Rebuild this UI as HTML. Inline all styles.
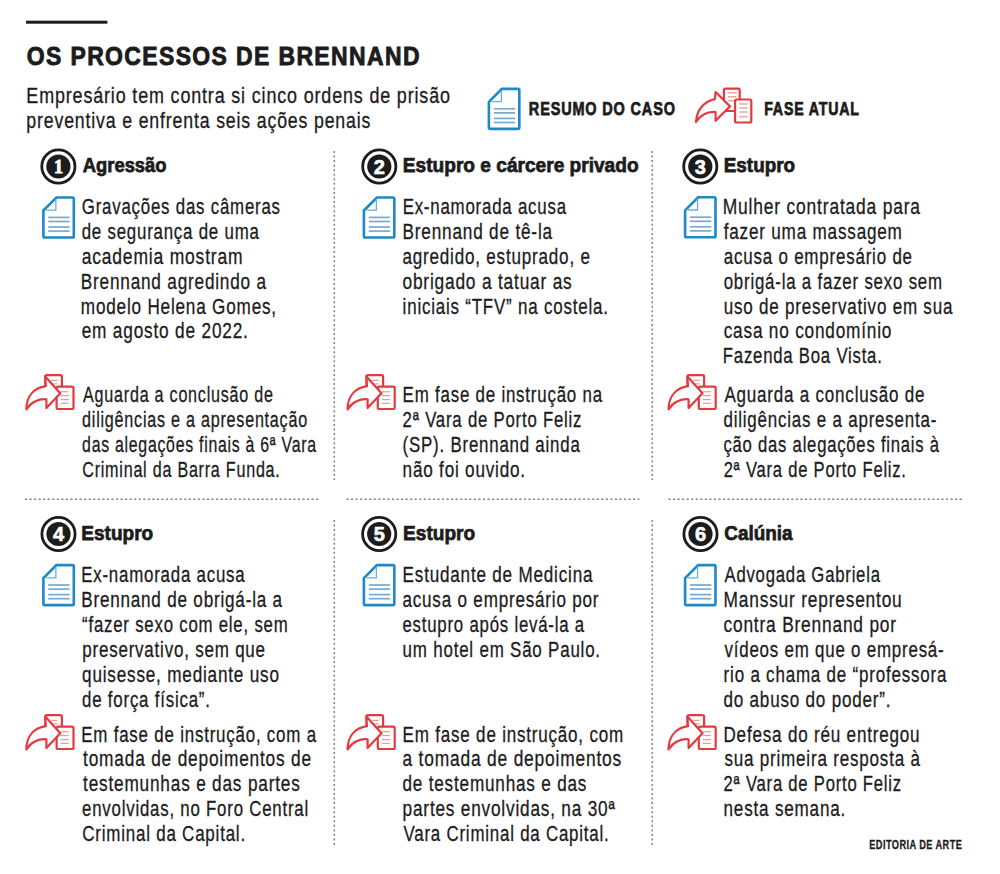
<!DOCTYPE html>
<html lang="pt-BR"><head><meta charset="utf-8"><title>Os processos de Brennand</title>
<style>
html,body{margin:0;padding:0;background:#fff;}
body{width:1000px;height:874px;overflow:hidden;}
svg{display:block;}
text{font-family:"Liberation Sans", Arial, Helvetica, sans-serif;fill:#1c1c1c;}
.b{stroke:#1c1c1c;stroke-width:0.3px;letter-spacing:1px;}
.h{stroke:#1c1c1c;stroke-width:0.75px;}
.t{letter-spacing:1.6px;stroke-width:0.9px;}
.lg{letter-spacing:1.1px;}
.ft{letter-spacing:0.6px;stroke:#1c1c1c;stroke-width:0.3px;}
</style></head>
<body>
<svg width="1000" height="874" viewBox="0 0 1000 874">
<rect width="1000" height="874" fill="#fff"/>
<rect x="26" y="20.7" width="81.4" height="3" fill="#1c1c1c"/>
<line x1="334.3" y1="151" x2="334.3" y2="480" stroke="#808080" stroke-width="1.5" stroke-dasharray="2 2.55"/>
<line x1="334.3" y1="520" x2="334.3" y2="847" stroke="#808080" stroke-width="1.5" stroke-dasharray="2 2.55"/>
<line x1="652.2" y1="151" x2="652.2" y2="480" stroke="#808080" stroke-width="1.5" stroke-dasharray="2 2.55"/>
<line x1="652.2" y1="520" x2="652.2" y2="847" stroke="#808080" stroke-width="1.5" stroke-dasharray="2 2.55"/>
<line x1="25" y1="499.3" x2="318.5" y2="499.3" stroke="#808080" stroke-width="1.5" stroke-dasharray="2 2.55"/>
<line x1="346.5" y1="499.3" x2="639.5" y2="499.3" stroke="#808080" stroke-width="1.5" stroke-dasharray="2 2.55"/>
<line x1="668.5" y1="499.3" x2="962.5" y2="499.3" stroke="#808080" stroke-width="1.5" stroke-dasharray="2 2.55"/>
<g transform="translate(487.60,87.60)">
<path d="M1.3,14.3 L14.3,1.3 L30.4,1.3 Q31.7,1.3 31.7,2.6 L31.7,40 Q31.7,41.3 30.4,41.3 L2.6,41.3 Q1.3,41.3 1.3,40 Z" fill="#fff" stroke="#1f88c6" stroke-width="2.6" stroke-linejoin="miter"/>
<path d="M13.75,3 L13.75,14 L4.2,14" fill="none" stroke="#6aaedc" stroke-width="1.3"/>
<g stroke="#76aad0" stroke-width="1.7">
<line x1="6.2" y1="21.2" x2="27.5" y2="21.2"/><line x1="6.2" y1="25.3" x2="27.5" y2="25.3"/>
<line x1="6.2" y1="30.8" x2="27.5" y2="30.8"/><line x1="6.2" y1="34.9" x2="27.5" y2="34.9"/>
</g></g>
<g transform="translate(690.00,80.00)" fill="#fff" stroke="#e43a3f" stroke-width="2.2" stroke-linejoin="round">
<rect x="33.9" y="8.7" width="15.8" height="22.3" rx="1.6"/>
<g stroke="#e59a9a" stroke-width="1.3"><line x1="38" y1="12.8" x2="46.4" y2="12.8"/><line x1="38" y1="16.8" x2="46.4" y2="16.8"/><line x1="38" y1="20.8" x2="46.4" y2="20.8"/></g>
<rect x="45.1" y="19.5" width="16.2" height="23" rx="1.6"/>
<g stroke="#e59a9a" stroke-width="1.3"><line x1="49.2" y1="24" x2="57.6" y2="24"/><line x1="49.2" y1="28" x2="57.6" y2="28"/>
<line x1="49.2" y1="32" x2="57.6" y2="32"/><line x1="49.2" y1="36.8" x2="57.6" y2="36.8"/></g>
<path d="M6,42 C6.5,30 14,21.5 24.8,19.2 L25.6,12 L40,26.4 L25.6,40.8 L25.6,32 C18,31.5 10.5,35 6,42 Z"/>
</g>
<g><circle cx="58.4" cy="166.5" r="16.6" fill="none" stroke="#1c1c1c" stroke-width="2.8"/>
<circle cx="58.4" cy="166.5" r="12.1" fill="#1c1c1c"/>
<text x="58.4" y="173.20" text-anchor="middle" font-size="18" font-weight="bold" style="font-family:'Liberation Serif', serif;fill:#fff;stroke:#fff;stroke-width:0.9px">1</text></g>
<g><circle cx="379.3" cy="166.5" r="16.6" fill="none" stroke="#1c1c1c" stroke-width="2.8"/>
<circle cx="379.3" cy="166.5" r="12.1" fill="#1c1c1c"/>
<text x="379.3" y="173.70" text-anchor="middle" font-size="20" font-weight="bold" style="font-family:'Liberation Sans', sans-serif;fill:#fff;stroke:#fff;stroke-width:0.6px">2</text></g>
<g><circle cx="700.3" cy="166.5" r="16.6" fill="none" stroke="#1c1c1c" stroke-width="2.8"/>
<circle cx="700.3" cy="166.5" r="12.1" fill="#1c1c1c"/>
<text x="700.3" y="173.70" text-anchor="middle" font-size="20" font-weight="bold" style="font-family:'Liberation Sans', sans-serif;fill:#fff;stroke:#fff;stroke-width:0.6px">3</text></g>
<g><circle cx="58.5" cy="534" r="16.6" fill="none" stroke="#1c1c1c" stroke-width="2.8"/>
<circle cx="58.5" cy="534" r="12.1" fill="#1c1c1c"/>
<text x="58.5" y="541.20" text-anchor="middle" font-size="20" font-weight="bold" style="font-family:'Liberation Sans', sans-serif;fill:#fff;stroke:#fff;stroke-width:0.6px">4</text></g>
<g><circle cx="379.2" cy="534" r="16.6" fill="none" stroke="#1c1c1c" stroke-width="2.8"/>
<circle cx="379.2" cy="534" r="12.1" fill="#1c1c1c"/>
<text x="379.2" y="541.20" text-anchor="middle" font-size="20" font-weight="bold" style="font-family:'Liberation Sans', sans-serif;fill:#fff;stroke:#fff;stroke-width:0.6px">5</text></g>
<g><circle cx="700.5" cy="534" r="16.6" fill="none" stroke="#1c1c1c" stroke-width="2.8"/>
<circle cx="700.5" cy="534" r="12.1" fill="#1c1c1c"/>
<text x="700.5" y="541.20" text-anchor="middle" font-size="20" font-weight="bold" style="font-family:'Liberation Sans', sans-serif;fill:#fff;stroke:#fff;stroke-width:0.6px">6</text></g>
<g transform="translate(42.10,196.20)">
<path d="M1.3,14.3 L14.3,1.3 L30.4,1.3 Q31.7,1.3 31.7,2.6 L31.7,40 Q31.7,41.3 30.4,41.3 L2.6,41.3 Q1.3,41.3 1.3,40 Z" fill="#fff" stroke="#1f88c6" stroke-width="2.6" stroke-linejoin="miter"/>
<path d="M13.75,3 L13.75,14 L4.2,14" fill="none" stroke="#6aaedc" stroke-width="1.3"/>
<g stroke="#76aad0" stroke-width="1.7">
<line x1="6.2" y1="21.2" x2="27.5" y2="21.2"/><line x1="6.2" y1="25.3" x2="27.5" y2="25.3"/>
<line x1="6.2" y1="30.8" x2="27.5" y2="30.8"/><line x1="6.2" y1="34.9" x2="27.5" y2="34.9"/>
</g></g>
<g transform="translate(362.60,196.20)">
<path d="M1.3,14.3 L14.3,1.3 L30.4,1.3 Q31.7,1.3 31.7,2.6 L31.7,40 Q31.7,41.3 30.4,41.3 L2.6,41.3 Q1.3,41.3 1.3,40 Z" fill="#fff" stroke="#1f88c6" stroke-width="2.6" stroke-linejoin="miter"/>
<path d="M13.75,3 L13.75,14 L4.2,14" fill="none" stroke="#6aaedc" stroke-width="1.3"/>
<g stroke="#76aad0" stroke-width="1.7">
<line x1="6.2" y1="21.2" x2="27.5" y2="21.2"/><line x1="6.2" y1="25.3" x2="27.5" y2="25.3"/>
<line x1="6.2" y1="30.8" x2="27.5" y2="30.8"/><line x1="6.2" y1="34.9" x2="27.5" y2="34.9"/>
</g></g>
<g transform="translate(683.80,196.00)">
<path d="M1.3,14.3 L14.3,1.3 L30.4,1.3 Q31.7,1.3 31.7,2.6 L31.7,40 Q31.7,41.3 30.4,41.3 L2.6,41.3 Q1.3,41.3 1.3,40 Z" fill="#fff" stroke="#1f88c6" stroke-width="2.6" stroke-linejoin="miter"/>
<path d="M13.75,3 L13.75,14 L4.2,14" fill="none" stroke="#6aaedc" stroke-width="1.3"/>
<g stroke="#76aad0" stroke-width="1.7">
<line x1="6.2" y1="21.2" x2="27.5" y2="21.2"/><line x1="6.2" y1="25.3" x2="27.5" y2="25.3"/>
<line x1="6.2" y1="30.8" x2="27.5" y2="30.8"/><line x1="6.2" y1="34.9" x2="27.5" y2="34.9"/>
</g></g>
<g transform="translate(42.10,563.80)">
<path d="M1.3,14.3 L14.3,1.3 L30.4,1.3 Q31.7,1.3 31.7,2.6 L31.7,40 Q31.7,41.3 30.4,41.3 L2.6,41.3 Q1.3,41.3 1.3,40 Z" fill="#fff" stroke="#1f88c6" stroke-width="2.6" stroke-linejoin="miter"/>
<path d="M13.75,3 L13.75,14 L4.2,14" fill="none" stroke="#6aaedc" stroke-width="1.3"/>
<g stroke="#76aad0" stroke-width="1.7">
<line x1="6.2" y1="21.2" x2="27.5" y2="21.2"/><line x1="6.2" y1="25.3" x2="27.5" y2="25.3"/>
<line x1="6.2" y1="30.8" x2="27.5" y2="30.8"/><line x1="6.2" y1="34.9" x2="27.5" y2="34.9"/>
</g></g>
<g transform="translate(362.60,563.80)">
<path d="M1.3,14.3 L14.3,1.3 L30.4,1.3 Q31.7,1.3 31.7,2.6 L31.7,40 Q31.7,41.3 30.4,41.3 L2.6,41.3 Q1.3,41.3 1.3,40 Z" fill="#fff" stroke="#1f88c6" stroke-width="2.6" stroke-linejoin="miter"/>
<path d="M13.75,3 L13.75,14 L4.2,14" fill="none" stroke="#6aaedc" stroke-width="1.3"/>
<g stroke="#76aad0" stroke-width="1.7">
<line x1="6.2" y1="21.2" x2="27.5" y2="21.2"/><line x1="6.2" y1="25.3" x2="27.5" y2="25.3"/>
<line x1="6.2" y1="30.8" x2="27.5" y2="30.8"/><line x1="6.2" y1="34.9" x2="27.5" y2="34.9"/>
</g></g>
<g transform="translate(683.80,563.80)">
<path d="M1.3,14.3 L14.3,1.3 L30.4,1.3 Q31.7,1.3 31.7,2.6 L31.7,40 Q31.7,41.3 30.4,41.3 L2.6,41.3 Q1.3,41.3 1.3,40 Z" fill="#fff" stroke="#1f88c6" stroke-width="2.6" stroke-linejoin="miter"/>
<path d="M13.75,3 L13.75,14 L4.2,14" fill="none" stroke="#6aaedc" stroke-width="1.3"/>
<g stroke="#76aad0" stroke-width="1.7">
<line x1="6.2" y1="21.2" x2="27.5" y2="21.2"/><line x1="6.2" y1="25.3" x2="27.5" y2="25.3"/>
<line x1="6.2" y1="30.8" x2="27.5" y2="30.8"/><line x1="6.2" y1="34.9" x2="27.5" y2="34.9"/>
</g></g>
<g transform="translate(22.00,370.00)" fill="#fff" stroke="#e43a3f" stroke-width="2.2" stroke-linejoin="round">
<rect x="23.3" y="5.05" width="16.6" height="20" rx="1.6"/>
<line x1="29" y1="10.4" x2="35.4" y2="10.4" stroke="#e59a9a" stroke-width="1.2"/>
<line x1="29" y1="13.9" x2="35.4" y2="13.9" stroke="#e59a9a" stroke-width="1.2"/>
<rect x="34.6" y="16.7" width="16.9" height="22.3" rx="1.6"/>
<g stroke="#e59a9a" stroke-width="1.2"><line x1="38.6" y1="21.75" x2="46.7" y2="21.75"/><line x1="38.6" y1="25.5" x2="46.7" y2="25.5"/>
<line x1="38.6" y1="29.6" x2="46.7" y2="29.6"/><line x1="38.6" y1="33.35" x2="46.7" y2="33.35"/></g>
<path d="M4.35,39.4 C4.5,26 12,18 23.8,16.2 L23.2,6.4 L38.3,23.2 L24.4,38 L24.4,29.3 C17,28.5 9,32 4.35,39.4 Z"/>
</g>
<g transform="translate(343.20,370.00)" fill="#fff" stroke="#e43a3f" stroke-width="2.2" stroke-linejoin="round">
<rect x="23.3" y="5.05" width="16.6" height="20" rx="1.6"/>
<line x1="29" y1="10.4" x2="35.4" y2="10.4" stroke="#e59a9a" stroke-width="1.2"/>
<line x1="29" y1="13.9" x2="35.4" y2="13.9" stroke="#e59a9a" stroke-width="1.2"/>
<rect x="34.6" y="16.7" width="16.9" height="22.3" rx="1.6"/>
<g stroke="#e59a9a" stroke-width="1.2"><line x1="38.6" y1="21.75" x2="46.7" y2="21.75"/><line x1="38.6" y1="25.5" x2="46.7" y2="25.5"/>
<line x1="38.6" y1="29.6" x2="46.7" y2="29.6"/><line x1="38.6" y1="33.35" x2="46.7" y2="33.35"/></g>
<path d="M4.35,39.4 C4.5,26 12,18 23.8,16.2 L23.2,6.4 L38.3,23.2 L24.4,38 L24.4,29.3 C17,28.5 9,32 4.35,39.4 Z"/>
</g>
<g transform="translate(664.20,370.00)" fill="#fff" stroke="#e43a3f" stroke-width="2.2" stroke-linejoin="round">
<rect x="23.3" y="5.05" width="16.6" height="20" rx="1.6"/>
<line x1="29" y1="10.4" x2="35.4" y2="10.4" stroke="#e59a9a" stroke-width="1.2"/>
<line x1="29" y1="13.9" x2="35.4" y2="13.9" stroke="#e59a9a" stroke-width="1.2"/>
<rect x="34.6" y="16.7" width="16.9" height="22.3" rx="1.6"/>
<g stroke="#e59a9a" stroke-width="1.2"><line x1="38.6" y1="21.75" x2="46.7" y2="21.75"/><line x1="38.6" y1="25.5" x2="46.7" y2="25.5"/>
<line x1="38.6" y1="29.6" x2="46.7" y2="29.6"/><line x1="38.6" y1="33.35" x2="46.7" y2="33.35"/></g>
<path d="M4.35,39.4 C4.5,26 12,18 23.8,16.2 L23.2,6.4 L38.3,23.2 L24.4,38 L24.4,29.3 C17,28.5 9,32 4.35,39.4 Z"/>
</g>
<g transform="translate(22.00,710.00)" fill="#fff" stroke="#e43a3f" stroke-width="2.2" stroke-linejoin="round">
<rect x="23.3" y="5.05" width="16.6" height="20" rx="1.6"/>
<line x1="29" y1="10.4" x2="35.4" y2="10.4" stroke="#e59a9a" stroke-width="1.2"/>
<line x1="29" y1="13.9" x2="35.4" y2="13.9" stroke="#e59a9a" stroke-width="1.2"/>
<rect x="34.6" y="16.7" width="16.9" height="22.3" rx="1.6"/>
<g stroke="#e59a9a" stroke-width="1.2"><line x1="38.6" y1="21.75" x2="46.7" y2="21.75"/><line x1="38.6" y1="25.5" x2="46.7" y2="25.5"/>
<line x1="38.6" y1="29.6" x2="46.7" y2="29.6"/><line x1="38.6" y1="33.35" x2="46.7" y2="33.35"/></g>
<path d="M4.35,39.4 C4.5,26 12,18 23.8,16.2 L23.2,6.4 L38.3,23.2 L24.4,38 L24.4,29.3 C17,28.5 9,32 4.35,39.4 Z"/>
</g>
<g transform="translate(343.20,710.00)" fill="#fff" stroke="#e43a3f" stroke-width="2.2" stroke-linejoin="round">
<rect x="23.3" y="5.05" width="16.6" height="20" rx="1.6"/>
<line x1="29" y1="10.4" x2="35.4" y2="10.4" stroke="#e59a9a" stroke-width="1.2"/>
<line x1="29" y1="13.9" x2="35.4" y2="13.9" stroke="#e59a9a" stroke-width="1.2"/>
<rect x="34.6" y="16.7" width="16.9" height="22.3" rx="1.6"/>
<g stroke="#e59a9a" stroke-width="1.2"><line x1="38.6" y1="21.75" x2="46.7" y2="21.75"/><line x1="38.6" y1="25.5" x2="46.7" y2="25.5"/>
<line x1="38.6" y1="29.6" x2="46.7" y2="29.6"/><line x1="38.6" y1="33.35" x2="46.7" y2="33.35"/></g>
<path d="M4.35,39.4 C4.5,26 12,18 23.8,16.2 L23.2,6.4 L38.3,23.2 L24.4,38 L24.4,29.3 C17,28.5 9,32 4.35,39.4 Z"/>
</g>
<g transform="translate(664.20,710.00)" fill="#fff" stroke="#e43a3f" stroke-width="2.2" stroke-linejoin="round">
<rect x="23.3" y="5.05" width="16.6" height="20" rx="1.6"/>
<line x1="29" y1="10.4" x2="35.4" y2="10.4" stroke="#e59a9a" stroke-width="1.2"/>
<line x1="29" y1="13.9" x2="35.4" y2="13.9" stroke="#e59a9a" stroke-width="1.2"/>
<rect x="34.6" y="16.7" width="16.9" height="22.3" rx="1.6"/>
<g stroke="#e59a9a" stroke-width="1.2"><line x1="38.6" y1="21.75" x2="46.7" y2="21.75"/><line x1="38.6" y1="25.5" x2="46.7" y2="25.5"/>
<line x1="38.6" y1="29.6" x2="46.7" y2="29.6"/><line x1="38.6" y1="33.35" x2="46.7" y2="33.35"/></g>
<path d="M4.35,39.4 C4.5,26 12,18 23.8,16.2 L23.2,6.4 L38.3,23.2 L24.4,38 L24.4,29.3 C17,28.5 9,32 4.35,39.4 Z"/>
</g>
<g>
<text class="h t" x="26.75" y="64.50" font-size="26.5" font-weight="bold" textLength="394.09" lengthAdjust="spacingAndGlyphs">OS PROCESSOS DE BRENNAND</text>
<text class="b" x="26.36" y="103.30" font-size="21.3" font-weight="normal" textLength="424.42" lengthAdjust="spacingAndGlyphs">Empresário tem contra si cinco ordens de prisão</text>
<text class="b" x="26.37" y="127.60" font-size="21.3" font-weight="normal" textLength="344.83" lengthAdjust="spacingAndGlyphs">preventiva e enfrenta seis ações penais</text>
<text class="h lg" x="528.86" y="114.80" font-size="19.0" font-weight="bold" textLength="146.90" lengthAdjust="spacingAndGlyphs">RESUMO DO CASO</text>
<text class="h lg" x="764.19" y="114.70" font-size="19.0" font-weight="bold" textLength="95.50" lengthAdjust="spacingAndGlyphs">FASE ATUAL</text>
<text class="h" x="82.78" y="172.00" font-size="20.7" font-weight="bold" textLength="83.79" lengthAdjust="spacingAndGlyphs">Agressão</text>
<text class="h" x="402.87" y="172.00" font-size="20.7" font-weight="bold" textLength="235.72" lengthAdjust="spacingAndGlyphs">Estupro e cárcere privado</text>
<text class="h" x="723.76" y="172.00" font-size="20.7" font-weight="bold" textLength="71.36" lengthAdjust="spacingAndGlyphs">Estupro</text>
<text class="h" x="81.35" y="539.70" font-size="20.7" font-weight="bold" textLength="71.86" lengthAdjust="spacingAndGlyphs">Estupro</text>
<text class="h" x="403.08" y="539.70" font-size="20.7" font-weight="bold" textLength="72.04" lengthAdjust="spacingAndGlyphs">Estupro</text>
<text class="h" x="724.23" y="539.70" font-size="20.7" font-weight="bold" textLength="68.32" lengthAdjust="spacingAndGlyphs">Calúnia</text>
<text class="b" x="81.83" y="214.20" font-size="21.3" font-weight="normal" textLength="198.99" lengthAdjust="spacingAndGlyphs">Gravações das câmeras</text>
<text class="b" x="81.69" y="239.05" font-size="21.3" font-weight="normal" textLength="177.94" lengthAdjust="spacingAndGlyphs">de segurança de uma</text>
<text class="b" x="81.68" y="263.90" font-size="21.3" font-weight="normal" textLength="161.75" lengthAdjust="spacingAndGlyphs">academia mostram</text>
<text class="b" x="80.80" y="288.75" font-size="21.3" font-weight="normal" textLength="186.06" lengthAdjust="spacingAndGlyphs">Brennand agredindo a</text>
<text class="b" x="80.81" y="313.60" font-size="21.3" font-weight="normal" textLength="196.12" lengthAdjust="spacingAndGlyphs">modelo Helena Gomes,</text>
<text class="b" x="81.68" y="338.45" font-size="21.3" font-weight="normal" textLength="167.02" lengthAdjust="spacingAndGlyphs">em agosto de 2022.</text>
<text class="b" x="402.63" y="214.20" font-size="21.3" font-weight="normal" textLength="164.24" lengthAdjust="spacingAndGlyphs">Ex-namorada acusa</text>
<text class="b" x="402.59" y="239.05" font-size="21.3" font-weight="normal" textLength="150.30" lengthAdjust="spacingAndGlyphs">Brennand de tê-la</text>
<text class="b" x="402.48" y="263.90" font-size="21.3" font-weight="normal" textLength="188.27" lengthAdjust="spacingAndGlyphs">agredido, estuprado, e</text>
<text class="b" x="402.48" y="288.75" font-size="21.3" font-weight="normal" textLength="170.11" lengthAdjust="spacingAndGlyphs">obrigado a tatuar as</text>
<text class="b" x="402.61" y="313.60" font-size="21.3" font-weight="normal" textLength="206.09" lengthAdjust="spacingAndGlyphs">iniciais “TFV” na costela.</text>
<text class="b" x="722.79" y="214.20" font-size="21.3" font-weight="normal" textLength="198.08" lengthAdjust="spacingAndGlyphs">Mulher contratada para</text>
<text class="b" x="723.68" y="239.05" font-size="21.3" font-weight="normal" textLength="178.97" lengthAdjust="spacingAndGlyphs">fazer uma massagem</text>
<text class="b" x="723.69" y="263.90" font-size="21.3" font-weight="normal" textLength="189.15" lengthAdjust="spacingAndGlyphs">acusa o empresário de</text>
<text class="b" x="723.68" y="288.75" font-size="21.3" font-weight="normal" textLength="219.18" lengthAdjust="spacingAndGlyphs">obrigá-la a fazer sexo sem</text>
<text class="b" x="723.81" y="313.60" font-size="21.3" font-weight="normal" textLength="229.35" lengthAdjust="spacingAndGlyphs">uso de preservativo em sua</text>
<text class="b" x="723.68" y="338.45" font-size="21.3" font-weight="normal" textLength="168.57" lengthAdjust="spacingAndGlyphs">casa no condomínio</text>
<text class="b" x="722.82" y="363.30" font-size="21.3" font-weight="normal" textLength="159.83" lengthAdjust="spacingAndGlyphs">Fazenda Boa Vista.</text>
<text class="b" x="83.10" y="402.30" font-size="21.3" font-weight="normal" textLength="190.61" lengthAdjust="spacingAndGlyphs">Aguarda a conclusão de</text>
<text class="b" x="82.09" y="427.15" font-size="21.3" font-weight="normal" textLength="225.82" lengthAdjust="spacingAndGlyphs">diligências e a apresentação</text>
<text class="b" x="82.09" y="452.00" font-size="21.3" font-weight="normal" textLength="234.79" lengthAdjust="spacingAndGlyphs">das alegações finais à 6ª Vara</text>
<text class="b" x="82.26" y="476.85" font-size="21.3" font-weight="normal" textLength="198.34" lengthAdjust="spacingAndGlyphs">Criminal da Barra Funda.</text>
<text class="b" x="402.61" y="402.30" font-size="21.3" font-weight="normal" textLength="200.25" lengthAdjust="spacingAndGlyphs">Em fase de instrução na</text>
<text class="b" x="402.62" y="427.15" font-size="21.3" font-weight="normal" textLength="179.67" lengthAdjust="spacingAndGlyphs">2ª Vara de Porto Feliz</text>
<text class="b" x="402.62" y="452.00" font-size="21.3" font-weight="normal" textLength="177.95" lengthAdjust="spacingAndGlyphs">(SP). Brennand ainda</text>
<text class="b" x="402.59" y="476.85" font-size="21.3" font-weight="normal" textLength="123.34" lengthAdjust="spacingAndGlyphs">não foi ouvido.</text>
<text class="b" x="724.49" y="402.30" font-size="21.3" font-weight="normal" textLength="200.75" lengthAdjust="spacingAndGlyphs">Aguarda a conclusão de</text>
<text class="b" x="723.48" y="427.15" font-size="21.3" font-weight="normal" textLength="213.71" lengthAdjust="spacingAndGlyphs">diligências e a apresenta-</text>
<text class="b" x="723.48" y="452.00" font-size="21.3" font-weight="normal" textLength="216.39" lengthAdjust="spacingAndGlyphs">ção das alegações finais à</text>
<text class="b" x="723.63" y="476.85" font-size="21.3" font-weight="normal" textLength="183.13" lengthAdjust="spacingAndGlyphs">2ª Vara de Porto Feliz.</text>
<text class="b" x="81.23" y="582.30" font-size="21.3" font-weight="normal" textLength="164.26" lengthAdjust="spacingAndGlyphs">Ex-namorada acusa</text>
<text class="b" x="81.21" y="607.15" font-size="21.3" font-weight="normal" textLength="201.66" lengthAdjust="spacingAndGlyphs">Brennand de obrigá-la a</text>
<text class="b" x="82.10" y="632.00" font-size="21.3" font-weight="normal" textLength="206.36" lengthAdjust="spacingAndGlyphs">“fazer sexo com ele, sem</text>
<text class="b" x="82.22" y="656.85" font-size="21.3" font-weight="normal" textLength="183.62" lengthAdjust="spacingAndGlyphs">preservativo, sem que</text>
<text class="b" x="82.09" y="681.70" font-size="21.3" font-weight="normal" textLength="197.66" lengthAdjust="spacingAndGlyphs">quisesse, mediante uso</text>
<text class="b" x="82.09" y="706.55" font-size="21.3" font-weight="normal" textLength="128.61" lengthAdjust="spacingAndGlyphs">de força física”.</text>
<text class="b" x="402.61" y="582.30" font-size="21.3" font-weight="normal" textLength="190.66" lengthAdjust="spacingAndGlyphs">Estudante de Medicina</text>
<text class="b" x="402.48" y="607.15" font-size="21.3" font-weight="normal" textLength="196.80" lengthAdjust="spacingAndGlyphs">acusa o empresário por</text>
<text class="b" x="402.49" y="632.00" font-size="21.3" font-weight="normal" textLength="182.48" lengthAdjust="spacingAndGlyphs">estupro após levá-la a</text>
<text class="b" x="402.61" y="656.85" font-size="21.3" font-weight="normal" textLength="198.27" lengthAdjust="spacingAndGlyphs">um hotel em São Paulo.</text>
<text class="b" x="724.48" y="582.30" font-size="21.3" font-weight="normal" textLength="156.29" lengthAdjust="spacingAndGlyphs">Advogada Gabriela</text>
<text class="b" x="723.59" y="607.15" font-size="21.3" font-weight="normal" textLength="178.98" lengthAdjust="spacingAndGlyphs">Manssur representou</text>
<text class="b" x="723.49" y="632.00" font-size="21.3" font-weight="normal" textLength="173.41" lengthAdjust="spacingAndGlyphs">contra Brennand por</text>
<text class="b" x="724.48" y="656.85" font-size="21.3" font-weight="normal" textLength="220.01" lengthAdjust="spacingAndGlyphs">vídeos em que o empresá-</text>
<text class="b" x="723.61" y="681.70" font-size="21.3" font-weight="normal" textLength="223.56" lengthAdjust="spacingAndGlyphs">rio a chama de “professora</text>
<text class="b" x="723.48" y="706.55" font-size="21.3" font-weight="normal" textLength="167.82" lengthAdjust="spacingAndGlyphs">do abuso do poder”.</text>
<text class="b" x="81.22" y="741.60" font-size="21.3" font-weight="normal" textLength="235.66" lengthAdjust="spacingAndGlyphs">Em fase de instrução, com a</text>
<text class="b" x="83.09" y="766.45" font-size="21.3" font-weight="normal" textLength="228.86" lengthAdjust="spacingAndGlyphs">tomada de depoimentos de</text>
<text class="b" x="83.10" y="791.30" font-size="21.3" font-weight="normal" textLength="217.48" lengthAdjust="spacingAndGlyphs">testemunhas e das partes</text>
<text class="b" x="82.09" y="816.15" font-size="21.3" font-weight="normal" textLength="226.86" lengthAdjust="spacingAndGlyphs">envolvidas, no Foro Central</text>
<text class="b" x="82.22" y="841.00" font-size="21.3" font-weight="normal" textLength="163.68" lengthAdjust="spacingAndGlyphs">Criminal da Capital.</text>
<text class="b" x="402.61" y="741.60" font-size="21.3" font-weight="normal" textLength="221.34" lengthAdjust="spacingAndGlyphs">Em fase de instrução, com</text>
<text class="b" x="402.48" y="766.45" font-size="21.3" font-weight="normal" textLength="219.62" lengthAdjust="spacingAndGlyphs">a tomada de depoimentos</text>
<text class="b" x="402.49" y="791.30" font-size="21.3" font-weight="normal" textLength="184.69" lengthAdjust="spacingAndGlyphs">de testemunhas e das</text>
<text class="b" x="402.60" y="816.15" font-size="21.3" font-weight="normal" textLength="213.01" lengthAdjust="spacingAndGlyphs">partes envolvidas, na 30ª</text>
<text class="b" x="403.49" y="841.00" font-size="21.3" font-weight="normal" textLength="205.99" lengthAdjust="spacingAndGlyphs">Vara Criminal da Capital.</text>
<text class="b" x="723.51" y="741.60" font-size="21.3" font-weight="normal" textLength="196.84" lengthAdjust="spacingAndGlyphs">Defesa do réu entregou</text>
<text class="b" x="724.39" y="766.45" font-size="21.3" font-weight="normal" textLength="196.38" lengthAdjust="spacingAndGlyphs">sua primeira resposta à</text>
<text class="b" x="723.52" y="791.30" font-size="21.3" font-weight="normal" textLength="178.35" lengthAdjust="spacingAndGlyphs">2ª Vara de Porto Feliz</text>
<text class="b" x="723.50" y="816.15" font-size="21.3" font-weight="normal" textLength="122.62" lengthAdjust="spacingAndGlyphs">nesta semana.</text>
<text class="ft" x="869.27" y="848.50" font-size="12.8" font-weight="bold" textLength="93.04" lengthAdjust="spacingAndGlyphs">EDITORIA DE ARTE</text>
</g>
</svg>
</body></html>
